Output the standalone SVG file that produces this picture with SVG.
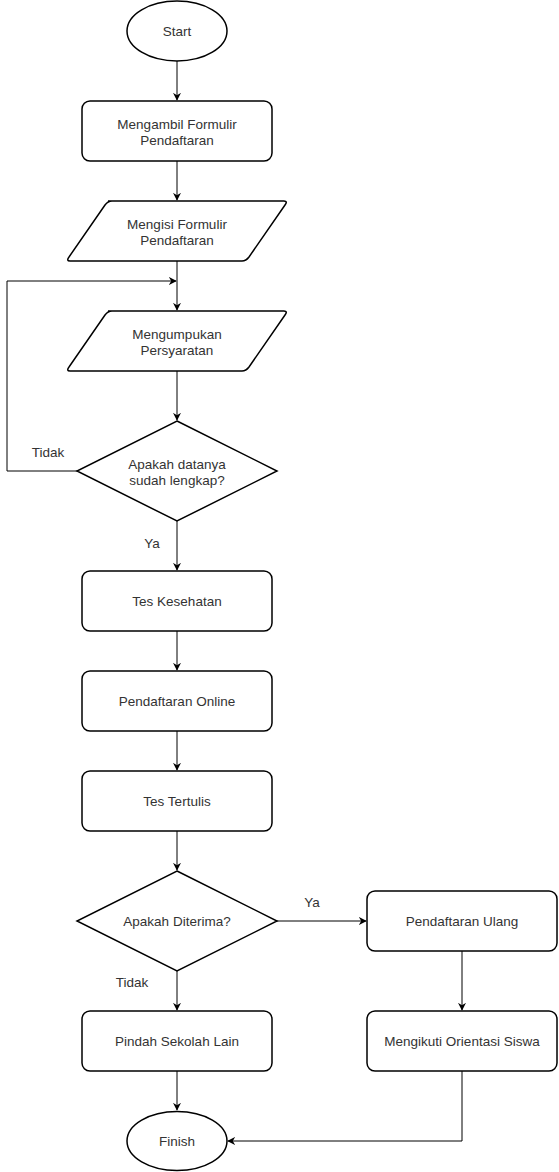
<svg xmlns="http://www.w3.org/2000/svg" width="559" height="1172" viewBox="0 0 559 1172">
<style>
.s{fill:#fff;stroke:#000;stroke-width:1.5}
.t{font-family:"Liberation Sans",Arial,sans-serif;font-size:13.5px;fill:#333;text-anchor:middle}
.e{fill:none;stroke:#000;stroke-width:1}
</style>
<defs>
<marker id="a" viewBox="0 0 10 10" refX="9" refY="5" markerWidth="8" markerHeight="8" markerUnits="userSpaceOnUse" orient="auto">
<path d="M0,0 L10,5 L0,10 L3,5 Z" fill="#000"/>
</marker>
</defs>
<rect width="559" height="1172" fill="#fff"/>
<g id="connectors">
<path class="e" d="M177,61 V100" marker-end="url(#a)"/>
<path class="e" d="M177,161 V200" marker-end="url(#a)"/>
<path class="e" d="M177,261 V310" marker-end="url(#a)"/>
<path class="e" d="M177,371 V420" marker-end="url(#a)"/>
<path class="e" d="M77,471 H7 V281 H176" marker-end="url(#a)"/>
<path class="e" d="M177,521 V570" marker-end="url(#a)"/>
<path class="e" d="M177,631 V670" marker-end="url(#a)"/>
<path class="e" d="M177,731 V770" marker-end="url(#a)"/>
<path class="e" d="M177,831 V870" marker-end="url(#a)"/>
<path class="e" d="M277,921 H366" marker-end="url(#a)"/>
<path class="e" d="M177,971 V1010" marker-end="url(#a)"/>
<path class="e" d="M462,951 V1010" marker-end="url(#a)"/>
<path class="e" d="M177,1071 V1110" marker-end="url(#a)"/>
<path class="e" d="M462,1071 V1141 H228" marker-end="url(#a)"/>
<text class="t" x="48" y="457">Tidak</text>
<text class="t" x="152" y="548">Ya</text>
<text class="t" x="312" y="907">Ya</text>
<text class="t" x="132" y="987">Tidak</text>
</g>
<g id="start">
<ellipse class="s" cx="177" cy="31" rx="50" ry="30"/>
<text class="t" x="177" y="36">Start</text>
</g>
<g id="ambil">
<rect class="s" x="82" y="101" width="190" height="60" rx="8"/>
<text class="t" x="177" y="129">Mengambil Formulir</text>
<text class="t" x="177" y="145">Pendaftaran</text>
</g>
<g id="isi">
<path class="s" d="M108,201 H284 Q288,201 285,205 L249,257 Q246,261 242,261 H70 Q66,261 69,257 L105,205 Q108,201 112,201 Z"/>
<text class="t" x="177" y="229">Mengisi Formulir</text>
<text class="t" x="177" y="245">Pendaftaran</text>
</g>
<g id="kumpul">
<path class="s" d="M108,311 H284 Q288,311 285,315 L249,367 Q246,371 242,371 H70 Q66,371 69,367 L105,315 Q108,311 112,311 Z"/>
<text class="t" x="177" y="339">Mengumpukan</text>
<text class="t" x="177" y="355">Persyaratan</text>
</g>
<g id="cek">
<path class="s" d="M177,421 L277,471 L177,521 L77,471 Z"/>
<text class="t" x="177" y="469">Apakah datanya</text>
<text class="t" x="177" y="485">sudah lengkap?</text>
</g>
<g id="kesehatan">
<rect class="s" x="82" y="571" width="190" height="60" rx="8"/>
<text class="t" x="177" y="606">Tes Kesehatan</text>
</g>
<g id="online">
<rect class="s" x="82" y="671" width="190" height="60" rx="8"/>
<text class="t" x="177" y="706">Pendaftaran Online</text>
</g>
<g id="tertulis">
<rect class="s" x="82" y="771" width="190" height="60" rx="8"/>
<text class="t" x="177" y="806">Tes Tertulis</text>
</g>
<g id="diterima">
<path class="s" d="M177,871 L277,921 L177,971 L77,921 Z"/>
<text class="t" x="177" y="926">Apakah Diterima?</text>
</g>
<g id="ulang">
<rect class="s" x="367" y="891" width="190" height="60" rx="8"/>
<text class="t" x="462" y="926">Pendaftaran Ulang</text>
</g>
<g id="pindah">
<rect class="s" x="82" y="1011" width="190" height="60" rx="8"/>
<text class="t" x="177" y="1046">Pindah Sekolah Lain</text>
</g>
<g id="orientasi">
<rect class="s" x="367" y="1011" width="190" height="60" rx="8"/>
<text class="t" x="462" y="1046">Mengikuti Orientasi Siswa</text>
</g>
<g id="finish">
<ellipse class="s" cx="177" cy="1141" rx="50" ry="29.5"/>
<text class="t" x="177" y="1146">Finish</text>
</g>
</svg>
